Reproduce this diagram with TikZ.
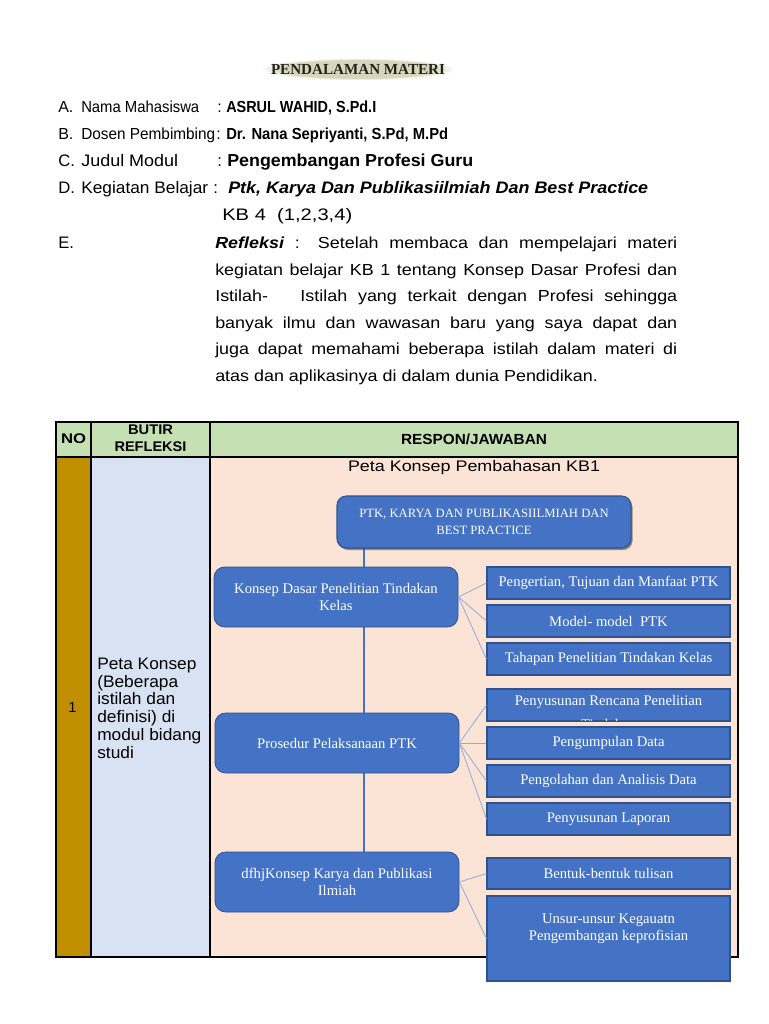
\documentclass[tikz,border=0pt]{standalone}
\usepackage{fontspec}
\usepackage{graphicx}
\setmainfont{Liberation Sans}
\newfontfamily\wsans{Liberation Sans}[FakeStretch=1.12]
\newfontfamily\bsans{Liberation Sans}[FakeStretch=1.04]
\newfontfamily\bxf{Liberation Serif}
\usetikzlibrary{fit,shadows,fadings}
\definecolor{hdrgreen}{HTML}{C5E0B3}
\definecolor{nogold}{HTML}{BF8F00}
\definecolor{butirblue}{HTML}{D9E2F3}
\definecolor{peach}{HTML}{FBE4D5}
\definecolor{boxblue}{HTML}{4472C4}
\definecolor{boxedge}{HTML}{2F528F}
\definecolor{linkblue}{HTML}{8FAADC}
\definecolor{glowc}{HTML}{B5B585}
\definecolor{ttlc}{HTML}{23231A}
\newsavebox\fitbox
\newcommand\fitw[2]{\sbox\fitbox{#2}\pgfmathsetmacro\fitr{#1*0.75/\the\wd\fitbox}\scalebox{\fitr}[1]{\usebox\fitbox}}
\begin{document}
\begin{tikzpicture}[x=0.75pt,y=-0.75pt,
  hl/.style={anchor=base west,inner sep=0pt,font=\fontsize{12}{14}\selectfont},
  hlc/.style={anchor=base west,inner sep=0pt,font=\fontsize{12.5}{14}\selectfont},
  par/.style={anchor=base west,inner sep=0pt,font=\wsans\fontsize{12}{14}\selectfont},
  th/.style={inner sep=0pt,font=\bfseries\fontsize{10.5}{12}\selectfont,align=center},
  bt/.style={anchor=base west,inner sep=0pt,font=\bsans\fontsize{12.5}{14}\selectfont},
  rootbox/.style={draw=boxedge,line width=0.8pt,fill=boxblue,rounded corners=7pt,inner sep=0pt,
     drop shadow={shadow xshift=1.2pt,shadow yshift=-1.5pt,fill=black!70,opacity=0.6}},
  lbox/.style={draw=boxedge,line width=0.6pt,fill=boxblue,rounded corners=8pt,inner sep=0pt},
  rbox/.style={draw=boxedge,line width=0.8pt,fill=boxblue,inner sep=0pt},
  bt2/.style={inner sep=0pt,text=white,font=\bxf\fontsize{11}{12.8}\selectfont,align=center},
  link/.style={draw=linkblue,line width=0.6pt},
  trunk/.style={draw=boxblue,line width=1.5pt}]
\useasboundingbox (0,0) rectangle (768,1024);
\fill[white] (0,0) rectangle (768,1024);

% title with soft glow
\fill[glowc,opacity=0.55,path fading=circle with fuzzy edge 20 percent] (262,58) rectangle (454,80);
\node[inner sep=0pt,text=ttlc,font=\bxf\bfseries\fontsize{11.5}{13}\selectfont] (title) at (358,69) {\fitw{174}{PENDALAMAN MATERI}};

% header lines
\node[hl] (la) at (58,112.5) {A.};
\node[hl] (lan) at (81,112.5) {\fitw{118}{Nama Mahasiswa}};
\node[hl] (lac) at (217,112.5) {:};
\node[hl,font=\bfseries\fontsize{12}{14}\selectfont] (lav) at (226,112.5) {\fitw{150}{ASRUL WAHID, S.Pd.I}};

\node[hl] (lb) at (58,139.5) {B.};
\node[hl] (lbn) at (81,139.5) {\fitw{134}{Dosen Pembimbing}};
\node[hl] (lbc) at (216,139.5) {:};
\node[hl,font=\bfseries\fontsize{12}{14}\selectfont] (lbv) at (226,139.5) {\fitw{222}{Dr. Nana Sepriyanti, S.Pd, M.Pd}};

\node[hlc] (lc) at (58,166.5) {C.};
\node[hlc] (lcn) at (81,166.5) {\fitw{97}{Judul Modul}};
\node[hlc] (lcc) at (217,166.5) {:};
\node[hlc,font=\bfseries\fontsize{13}{15}\selectfont] (lcv) at (227,166.5) {\fitw{246}{Pengembangan Profesi Guru}};

\node[hlc] (ld) at (58,193.5) {D.};
\node[hlc] (ldn) at (81,193.5) {\fitw{127}{Kegiatan Belajar}};
\node[hlc] (ldc) at (213,193.5) {:};
\node[hlc,font=\bfseries\itshape\fontsize{12.5}{14}\selectfont] (ldv) at (228,193.5) {\fitw{420}{Ptk, Karya Dan Publikasiilmiah Dan Best Practice}};
\node[hlc] (lkb) at (222,220.5) {\fitw{130}{KB 4\ \ (1,2,3,4)}};

\node[hlc] (le) at (58,248.5) {E.};
\node[par] (p1) at (215,248.5) {\makebox[346.5pt][s]{\textbf{\textit{Refleksi}} : Setelah membaca dan mempelajari materi}};
\node[par] (p2) at (215,275.1) {\makebox[346.5pt][s]{kegiatan belajar KB 1 tentang Konsep Dasar Profesi dan}};
\node[par] (p3) at (215,301.7) {\makebox[346.5pt][s]{Istilah-\ \ \ Istilah yang terkait dengan Profesi sehingga}};
\node[par] (p4) at (215,328.3) {\makebox[346.5pt][s]{banyak ilmu dan wawasan baru yang saya dapat dan}};
\node[par] (p5) at (215,354.9) {\makebox[346.5pt][s]{juga dapat memahami beberapa istilah dalam materi di}};
\node[par] (p6) at (215,381.5) {atas dan aplikasinya di dalam dunia Pendidikan.};

% table
\fill[hdrgreen] (56,422) rectangle (738,457);
\fill[nogold] (56,457) rectangle (91,957);
\fill[butirblue] (91,457) rectangle (210,957);
\fill[peach] (210,457) rectangle (738,957);
\draw[line width=0.8pt] (56,422) rectangle (738,957);
\draw[line width=0.8pt] (56,457) -- (738,457);
\draw[line width=0.8pt] (91,422) -- (91,957);
\draw[line width=0.8pt] (210,422) -- (210,957);

\node[th] (hno) at (73.5,439) {\fitw{25}{NO}};
\node[th] (hbut) at (150.5,430) {\fitw{45}{BUTIR}};
\node[th] (href) at (150.5,447) {\fitw{72}{REFLEKSI}};
\node[th,font=\bfseries\fontsize{11}{12}\selectfont] (hres) at (474,439) {\fitw{146}{RESPON/JAWABAN}};
\node[inner sep=0pt,font=\fontsize{11.5}{13}\selectfont] (peta) at (474,468) {\fitw{252}{Peta Konsep Pembahasan KB1}};

\node[inner sep=0pt,font=\fontsize{11}{13}\selectfont] (num) at (72.5,707) {1};
\node[bt] (b1) at (97,669) {Peta Konsep};
\node[bt] (b2) at (97,687) {(Beberapa};
\node[bt] (b3) at (97,704.5) {istilah dan};
\node[bt] (b4) at (97,722) {definisi) di};
\node[bt] (b5) at (97,740) {modul bidang};
\node[bt] (b6) at (97,758) {studi};

% concept map
\coordinate (t0) at (364,548);
\coordinate (t1) at (364,852);
\draw[trunk] (t0) -- (t1);

\node[rootbox,fit={(337,496) (631,548)}] (root) {};
\node[inner sep=0pt,text=white,font=\bxf\fontsize{9.5}{12.3}\selectfont,align=center] (roott) at (root.center) {PTK, KARYA DAN PUBLIKASIILMIAH DAN\\BEST PRACTICE};

\node[lbox,fit={(214,567) (458,627)}] (l1) {};
\node[lbox,fit={(215,713) (459,773)}] (l2) {};
\node[lbox,fit={(215,852) (459,912)}] (l3) {};
\node[bt2] (l1t) at (l1.center) {Konsep Dasar Penelitian Tindakan\\Kelas};
\node[bt2] (l2t) at (l2.center) {Prosedur Pelaksanaan PTK};
\node[bt2] (l3t) at (l3.center) {dfhjKonsep Karya dan Publikasi\\Ilmiah};

\node[rbox,fit={(487,567) (730,599)}] (r1) {};
\node[rbox,fit={(487,605) (730,637)}] (r2) {};
\node[rbox,fit={(487,643) (730,675)}] (r3) {};
\node[rbox,fit={(487,689) (730,721)}] (r4) {};
\node[rbox,fit={(487,727) (730,759)}] (r5) {};
\node[rbox,fit={(487,765) (730,797)}] (r6) {};
\node[rbox,fit={(487,803) (730,835)}] (r7) {};
\node[rbox,fit={(487,858) (730,889)}] (r8) {};
\node[rbox,fit={(487,896) (730,981)}] (r9) {};

\node[bt2] (r1t) at (r1.center) {Pengertian, Tujuan dan Manfaat PTK};
\node[bt2] (r2t) at (r2.center) {Model- model\ \ PTK};
\node[bt2] (r3t) at (r3.center) {Tahapan Penelitian Tindakan Kelas};
\node[bt2] (r4t) at (608.5,702) {Penyusunan Rencana Penelitian};
\begin{scope}
  \clip (488,690) rectangle (729,720);
  \node[bt2] (r4u) at (608.5,724.5) {Tindakan};
\end{scope}
\node[bt2] (r5t) at (r5.center) {Pengumpulan Data};
\node[bt2] (r6t) at (r6.center) {Pengolahan dan Analisis Data};
\node[bt2] (r7t) at (r7.center) {Penyusunan Laporan};
\node[bt2] (r8t) at (r8.center) {Bentuk-bentuk tulisan};
\node[bt2] (r9t) at (608.5,929) {Unsur-unsur Kegauatn\\Pengembangan keprofisian};

% connectors
\foreach \r in {r1,r2,r3} \draw[link] (l1.east) -- (\r.west);
\foreach \r in {r4,r5,r6,r7} \draw[link] (l2.east) -- (\r.west);
\draw[link] (l3.east) -- (r8.west);
\draw[link] (l3.east) -- (r9.west);
\end{tikzpicture}
\end{document}
